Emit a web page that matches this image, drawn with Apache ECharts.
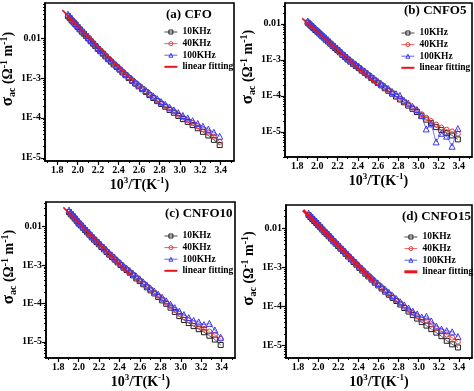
<!DOCTYPE html>
<html><head><meta charset="utf-8">
<script src="https://cdn.jsdelivr.net/npm/echarts@6/dist/echarts.min.js"></script>
<style>html,body{margin:0;padding:0;background:#fff}#c{width:474px;height:391px}</style>
</head><body><div id="c"></div>
<script>
// ---------- DATA ----------
// x: 10^3/T (K^-1)
const invT = [1.905,1.923,1.942,1.961,1.980,2.000,2.020,2.041,2.062,2.083,2.105,2.128,2.151,2.174,2.198,2.222,2.247,2.273,2.299,2.326,2.353,2.381,2.410,2.439,2.469,2.500,2.532,2.564,2.597,2.632,2.667,2.703,2.740,2.778,2.817,2.857,2.899,2.941,2.985,3.030,3.077,3.125,3.175,3.226,3.279,3.333,3.390];
const seriesNames = ['10KHz','40KHz','100KHz'];
const fitName = 'linear fitting';
const panelTitles = ['(a) CFO','(b) CNFO5','(c) CNFO10','(d) CNFO15'];
const xTicks = [1.8,2.0,2.2,2.4,2.6,2.8,3.0,3.2,3.4];
const xMinorTicks = [1.7,1.9,2.1,2.3,2.5,2.7,2.9,3.1,3.3,3.5];
const yTickExp = [-5,-4,-3,-2];
const yTickLabels = ['1E-5','1E-4','1E-3','0.01'];

// log10(sigma_ac)
const a10k = [-1.45,-1.50,-1.56,-1.61,-1.66,-1.72,-1.78,-1.84,-1.89,-1.95,-2.01,-2.08,-2.14,-2.20,-2.27,-2.33,-2.39,-2.46,-2.53,-2.59,-2.66,-2.72,-2.79,-2.86,-2.93,-3.00,-3.07,-3.14,-3.21,-3.28,-3.35,-3.43,-3.50,-3.58,-3.65,-3.72,-3.80,-3.87,-3.95,-4.03,-4.10,-4.18,-4.26,-4.35,-4.44,-4.55,-4.68];
const a40k = [-1.44,-1.49,-1.55,-1.60,-1.65,-1.71,-1.77,-1.83,-1.88,-1.94,-2.00,-2.07,-2.13,-2.19,-2.26,-2.32,-2.38,-2.45,-2.52,-2.58,-2.65,-2.71,-2.78,-2.85,-2.92,-2.99,-3.06,-3.13,-3.20,-3.27,-3.34,-3.41,-3.48,-3.56,-3.63,-3.70,-3.77,-3.84,-3.92,-3.99,-4.06,-4.13,-4.21,-4.29,-4.37,-4.47,-4.60];
const a100k = [-1.40,-1.46,-1.52,-1.57,-1.63,-1.69,-1.75,-1.80,-1.86,-1.92,-1.98,-2.04,-2.10,-2.17,-2.23,-2.29,-2.36,-2.42,-2.49,-2.55,-2.62,-2.68,-2.75,-2.82,-2.89,-2.96,-3.03,-3.10,-3.17,-3.24,-3.31,-3.38,-3.45,-3.52,-3.59,-3.66,-3.73,-3.80,-3.87,-3.94,-4.00,-4.07,-4.14,-4.21,-4.28,-4.36,-4.46];
const aFitX = [1.85,2.55];
const aFitY = [-1.30,-3.10];

const b10k = [-1.97,-2.02,-2.07,-2.12,-2.17,-2.22,-2.27,-2.33,-2.38,-2.44,-2.49,-2.55,-2.61,-2.67,-2.73,-2.79,-2.86,-2.92,-2.99,-3.05,-3.11,-3.17,-3.23,-3.30,-3.36,-3.43,-3.50,-3.57,-3.64,-3.71,-3.79,-3.86,-3.94,-4.02,-4.10,-4.18,-4.27,-4.36,-4.45,-4.55,-4.66,-4.76,-4.87,-4.95,-5.03,-5.10,-5.21];
const b40k = [-1.96,-2.01,-2.06,-2.11,-2.16,-2.21,-2.26,-2.32,-2.37,-2.43,-2.48,-2.54,-2.60,-2.66,-2.72,-2.78,-2.85,-2.91,-2.98,-3.04,-3.10,-3.16,-3.22,-3.29,-3.35,-3.42,-3.49,-3.56,-3.63,-3.70,-3.77,-3.84,-3.92,-4.00,-4.08,-4.16,-4.24,-4.33,-4.42,-4.51,-4.61,-4.70,-4.80,-4.88,-4.94,-4.99,-5.05];
const b100k = [-1.92,-1.97,-2.02,-2.07,-2.12,-2.17,-2.22,-2.28,-2.33,-2.39,-2.44,-2.50,-2.56,-2.62,-2.68,-2.74,-2.81,-2.87,-2.94,-3.00,-3.06,-3.12,-3.18,-3.25,-3.31,-3.38,-3.45,-3.52,-3.59,-3.66,-3.73,-3.80,-3.88,-3.94,-3.99,-4.12,-4.20,-4.29,-4.38,-4.55,-4.92,-4.78,-5.28,-5.04,-5.12,-5.40,-4.91];
const bFitX = [1.85,2.60];
const bFitY = [-1.85,-3.72];

const c10k = [-1.62,-1.68,-1.73,-1.79,-1.85,-1.92,-1.97,-2.03,-2.09,-2.15,-2.21,-2.28,-2.34,-2.40,-2.46,-2.53,-2.59,-2.66,-2.73,-2.79,-2.86,-2.93,-3.00,-3.07,-3.13,-3.20,-3.27,-3.35,-3.42,-3.50,-3.58,-3.66,-3.74,-3.83,-3.92,-4.01,-4.11,-4.22,-4.33,-4.43,-4.51,-4.59,-4.67,-4.75,-4.84,-4.94,-5.08];
const c40k = [-1.61,-1.67,-1.72,-1.78,-1.84,-1.91,-1.96,-2.02,-2.08,-2.14,-2.20,-2.27,-2.33,-2.39,-2.45,-2.52,-2.58,-2.65,-2.72,-2.78,-2.85,-2.92,-2.99,-3.06,-3.12,-3.19,-3.26,-3.33,-3.40,-3.48,-3.56,-3.64,-3.72,-3.80,-3.89,-3.98,-4.07,-4.17,-4.27,-4.36,-4.44,-4.52,-4.59,-4.66,-4.73,-4.82,-4.92];
const c100k = [-1.57,-1.63,-1.68,-1.74,-1.80,-1.87,-1.92,-1.98,-2.04,-2.10,-2.16,-2.23,-2.29,-2.35,-2.41,-2.48,-2.54,-2.61,-2.68,-2.74,-2.81,-2.88,-2.95,-3.02,-3.08,-3.15,-3.22,-3.29,-3.36,-3.44,-3.52,-3.60,-3.68,-3.76,-3.84,-3.93,-4.02,-4.11,-4.20,-4.29,-4.37,-4.44,-4.48,-4.55,-4.52,-4.69,-4.88];
const cFitX = [1.85,2.50];
const cFitY = [-1.50,-3.25];

const d10k = [-1.66,-1.71,-1.76,-1.81,-1.86,-1.92,-1.97,-2.03,-2.09,-2.14,-2.20,-2.26,-2.33,-2.39,-2.45,-2.52,-2.58,-2.65,-2.72,-2.79,-2.86,-2.93,-3.01,-3.08,-3.16,-3.23,-3.31,-3.39,-3.46,-3.54,-3.62,-3.70,-3.78,-3.86,-3.95,-4.04,-4.13,-4.22,-4.31,-4.40,-4.49,-4.58,-4.67,-4.76,-4.88,-4.97,-5.05];
const d40k = [-1.65,-1.70,-1.75,-1.80,-1.85,-1.91,-1.96,-2.02,-2.08,-2.13,-2.19,-2.25,-2.32,-2.38,-2.44,-2.51,-2.57,-2.64,-2.71,-2.78,-2.85,-2.92,-3.00,-3.07,-3.15,-3.22,-3.30,-3.38,-3.45,-3.53,-3.60,-3.68,-3.76,-3.84,-3.92,-4.01,-4.09,-4.17,-4.25,-4.34,-4.36,-4.46,-4.56,-4.63,-4.72,-4.80,-4.90];
const d100k = [-1.61,-1.66,-1.71,-1.76,-1.81,-1.87,-1.92,-1.98,-2.04,-2.09,-2.15,-2.21,-2.28,-2.34,-2.40,-2.47,-2.53,-2.60,-2.67,-2.74,-2.81,-2.88,-2.96,-3.03,-3.11,-3.18,-3.26,-3.34,-3.41,-3.49,-3.56,-3.64,-3.72,-3.80,-3.88,-3.96,-4.04,-4.12,-4.19,-4.27,-4.25,-4.37,-4.50,-4.58,-4.62,-4.65,-4.77];
const dFitX = [1.85,2.56];
const dFitY = [-1.53,-3.38];

// ---------- LAYOUT / STYLE ----------
const panelData = [
  {s:[a10k,a40k,a100k], fx:aFitX, fy:aFitY},
  {s:[b10k,b40k,b100k], fx:bFitX, fy:bFitY},
  {s:[c10k,c40k,c100k], fx:cFitX, fy:cFitY},
  {s:[d10k,d40k,d100k], fx:dFitX, fy:dFitY}
];
const layout = [
  {left:45, top:3, width:189, height:158, yr:[-5.08,-1.12], title:{left:166,top:8}, legend:{left:164,top:27}, fitW:1.6},
  {left:285, top:3, width:187, height:154, yr:[-5.70,-1.42], title:{left:404,top:4}, legend:{left:401,top:28}, fitW:1.6},
  {left:46, top:202, width:189, height:156, yr:[-5.42,-1.36], title:{left:165,top:207}, legend:{left:164,top:231}, fitW:1.6},
  {left:286, top:205, width:186, height:153, yr:[-5.32,-1.40], title:{left:402,top:210}, legend:{left:404,top:232}, fitW:3}
];
const X_MIN = 1.68, X_MAX = 3.53;
const F = 'Liberation Serif';
const colors = ['#1e1e1e','#e23b3b','#3a3af0'];
const fitColor = '#e8141e';
const symbols = ['rect','circle','triangle'];

const yMinorTicks = [];
for (let n = -7; n <= -1; n++) for (let k = 2; k <= 9; k++) yMinorTicks.push(n + Math.log10(k));

const richX = {
  n:{fontFamily:F,fontWeight:'bold',fontSize:14,color:'#000',lineHeight:16,verticalAlign:'bottom'},
  sup:{fontFamily:F,fontWeight:'bold',fontSize:9,color:'#000',lineHeight:9,verticalAlign:'top'}
};
const richY = {
  s:{fontFamily:F,fontWeight:'bold',fontSize:17,color:'#000',lineHeight:18,verticalAlign:'middle'},
  n:{fontFamily:F,fontWeight:'bold',fontSize:14,color:'#000',lineHeight:18,verticalAlign:'middle'},
  sub:{fontFamily:F,fontWeight:'bold',fontSize:10,color:'#000',lineHeight:10,verticalAlign:'bottom'},
  sup:{fontFamily:F,fontWeight:'bold',fontSize:10,color:'#000',lineHeight:10,verticalAlign:'top'}
};

const grids=[], xAxes=[], yAxes=[], series=[], legends=[], titles=[];
layout.forEach((L,i)=>{
  grids.push({left:L.left, top:L.top, width:L.width, height:L.height, show:true, borderColor:'#000', borderWidth:1.6, containLabel:false, outerBoundsMode:'none'});
  xAxes.push({type:'value', gridIndex:i, min:X_MIN, max:X_MAX, position:'bottom',
    axisLine:{show:true,onZero:false,lineStyle:{color:'#000',width:1.6}},
    axisTick:{show:true,customValues:xTicks,length:4,lineStyle:{color:'#000',width:1.2}},
    axisLabel:{customValues:xTicks,formatter:v=>(+v).toFixed(1),color:'#000',fontFamily:F,fontWeight:'bold',fontSize:10,margin:4},
    splitLine:{show:false},
    name:'{n|10}{sup|3}{n|/T(K}{sup|-1}{n|)}', nameLocation:'middle', nameGap:13,
    nameTextStyle:{rich:richX}});
  xAxes.push({type:'value', gridIndex:i, min:X_MIN, max:X_MAX, position:'bottom',
    axisLine:{show:false,onZero:false}, axisLabel:{show:false}, splitLine:{show:false},
    axisTick:{show:true,customValues:xMinorTicks,length:2,lineStyle:{color:'#000',width:1}}});
  yAxes.push({type:'value', gridIndex:i, min:L.yr[0], max:L.yr[1], position:'left',
    axisLine:{show:true,onZero:false,lineStyle:{color:'#000',width:1.6}},
    axisTick:{show:true,customValues:yTickExp,length:4,lineStyle:{color:'#000',width:1.2}},
    axisLabel:{customValues:yTickExp,formatter:v=>yTickLabels[yTickExp.indexOf(Math.round(v))],color:'#000',fontFamily:F,fontWeight:'bold',fontSize:10,margin:4},
    splitLine:{show:false},
    name:'{s|σ}{sub|ac}{n| (Ω}{sup|-1}{n| m}{sup|-1}{n|)}', nameLocation:'middle', nameRotate:90, nameGap:24,
    nameTextStyle:{rich:richY, padding:[0,0,0,26]}});
  yAxes.push({type:'value', gridIndex:i, min:L.yr[0], max:L.yr[1], position:'left',
    axisLine:{show:false,onZero:false}, axisLabel:{show:false}, splitLine:{show:false},
    axisTick:{show:true,customValues:yMinorTicks,length:2,lineStyle:{color:'#000',width:1}}});
  const P = panelData[i];
  P.s.forEach((arr,k)=>{
    series.push({type:'line', name:seriesNames[k], xAxisIndex:2*i, yAxisIndex:2*i,
      data: invT.map((x,j)=>[x,arr[j]]), symbol:symbols[k], symbolSize:k===2?6:5,
      itemStyle:{color:'rgba(255,255,255,0)',borderColor:colors[k],borderWidth:1},
      lineStyle:{color:colors[k],width:0.7}, emphasis:{disabled:true}, animation:false, z:2+k});
  });
  series.push({type:'line', name:fitName, xAxisIndex:2*i, yAxisIndex:2*i,
    data: P.fx.map((x,j)=>[x,P.fy[j]]), symbol:'none',
    lineStyle:{color:fitColor,width:L.fitW}, itemStyle:{color:fitColor}, animation:false, z:10});
  titles.push({text:panelTitles[i], left:L.title.left, top:L.title.top, padding:0,
    textStyle:{fontFamily:F,fontWeight:'bold',fontSize:13,color:'#000'}});
  const barH = L.fitW > 2 ? 3 : 2;
  legends.push({orient:'vertical', left:L.legend.left, top:L.legend.top, padding:0,
    itemWidth:13, itemHeight:5, itemGap:1.6, selectedMode:false,
    lineStyle:{width:0.8}, itemStyle:{borderWidth:1},
    textStyle:{fontFamily:F,fontWeight:'bold',fontSize:9.5,color:'#000',lineHeight:10},
    data:[seriesNames[0],seriesNames[1],seriesNames[2],
      {name:fitName, icon:'path://M0,0H13V'+barH+'H0Z', itemStyle:{color:fitColor,borderWidth:0}}]});
});

const chart = echarts.init(document.getElementById('c'), null, {renderer:'canvas'});
chart.setOption({animation:false, backgroundColor:'#fff', title:titles, legend:legends, grid:grids, xAxis:xAxes, yAxis:yAxes, series:series});
</script>
</body></html>
